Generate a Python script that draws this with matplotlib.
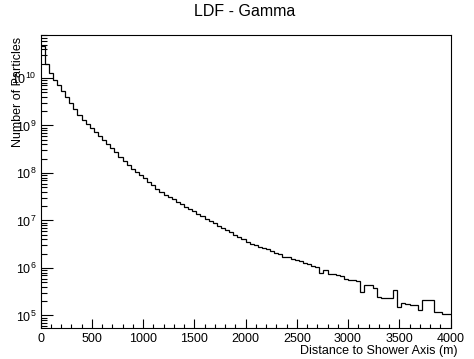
import numpy as np
import matplotlib
matplotlib.use("Agg")
import matplotlib.pyplot as plt
from matplotlib.ticker import MultipleLocator, LogLocator, NullFormatter

plt.rcParams['font.family'] = ['Liberation Sans', 'DejaVu Sans']
plt.rcParams['mathtext.default'] = 'regular'

title = "LDF - Gamma"
xlabel = "Distance to Shower Axis (m)"
ylabel = "Number of Particles"
x_range = (0, 4000)
n_bins = 100

counts = [
    4.7e10, 2.0e10, 1.26e10, 9.1e9, 7.1e9, 5.3e9, 4.0e9, 3.0e9, 2.2e9, 1.65e9,
    1.32e9, 1.08e9, 8.9e8, 7.3e8, 6.0e8, 4.9e8, 4.0e8, 3.3e8, 2.7e8, 2.2e8,
    1.82e8, 1.47e8, 1.20e8, 1.03e8, 8.9e7, 7.8e7, 6.6e7, 5.5e7, 4.6e7, 3.9e7,
    3.5e7, 3.1e7, 2.8e7, 2.5e7, 2.2e7, 1.96e7, 1.75e7, 1.56e7, 1.38e7, 1.23e7,
    1.10e7, 9.8e6, 8.7e6, 7.8e6, 6.9e6, 6.2e6, 5.6e6, 5.0e6, 4.5e6, 4.0e6,
    3.6e6, 3.25e6, 3.0e6, 2.8e6, 2.6e6, 2.45e6, 2.25e6, 2.1e6, 1.96e6, 1.7e6,
    1.72e6, 1.58e6, 1.47e6, 1.37e6, 1.27e6, 1.19e6, 1.12e6, 1.03e6, 8.0e5, 8.9e5,
    7.6e5, 7.4e5, 7.2e5, 6.8e5, 5.9e5, 5.7e5, 5.5e5, 5.3e5, 3.1e5, 4.4e5,
    4.3e5, 3.8e5, 2.4e5, 2.35e5, 2.3e5, 2.3e5, 3.4e5, 1.5e5, 1.8e5, 1.75e5,
    1.7e5, 1.65e5, 1.3e5, 2.1e5, 2.1e5, 2.1e5, 1.2e5, 1.2e5, 1.1e5, 1.1e5,
]

W, H = 474, 359
fig = plt.figure(figsize=(W / 100, H / 100), dpi=100)
left, right, top, bottom = 40.5, 450.5, 35, 327.5
ax = fig.add_axes([left / W, 1 - bottom / H, (right - left) / W, (bottom - top) / H])

edges = np.linspace(x_range[0], x_range[1], n_bins + 1)
ax.stairs(counts, edges, color='black', linewidth=0.9, baseline=None)

ax.set_yscale('log')
ax.set_xlim(*x_range)
ax.set_ylim(5.58e4, 8.04e10)

ax.xaxis.set_major_locator(MultipleLocator(500))
ax.xaxis.set_minor_locator(MultipleLocator(100))
ax.yaxis.set_major_locator(LogLocator(base=10, numticks=20))
ax.yaxis.set_minor_locator(LogLocator(base=10, subs=np.arange(2, 10), numticks=20))
ax.yaxis.set_minor_formatter(NullFormatter())

ax.tick_params(axis='both', which='both', direction='in', top=False, right=False,
               color='black', width=0.8, labelsize=9)
ax.tick_params(axis='x', which='major', length=6.5, pad=4)
ax.tick_params(axis='x', which='minor', length=3.2)
ax.tick_params(axis='y', which='major', length=8.6, pad=3)
ax.tick_params(axis='y', which='minor', length=4.3)
for s in ax.spines.values():
    s.set_linewidth(0.8)

fig.text(245 / W, 1 - 12 / H, title, ha='center', va='center', fontsize=11.5)
fig.text(457 / W, 1 - 351 / H, xlabel, ha='right', va='center', fontsize=9)
fig.text(18 / W, 1 - 37 / H, ylabel, ha='center', va='top', rotation=90, fontsize=9)

fig.savefig('out.png', dpi=100)
